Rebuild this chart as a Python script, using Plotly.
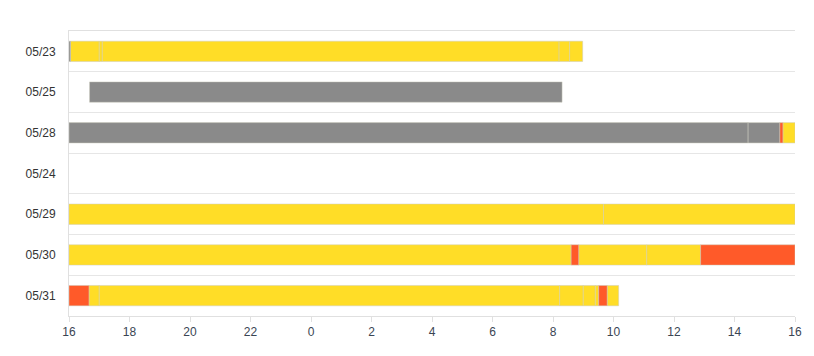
import plotly.graph_objects as go

# Categories (top to bottom)
days = ["05/23", "05/25", "05/28", "05/24", "05/29", "05/30", "05/31"]

# X axis: hours since 16:00, tick labels are clock hours
tick_hours = [0, 2, 4, 6, 8, 10, 12, 14, 16, 18, 20, 22, 24]
tick_labels = ["16", "18", "20", "22", "0", "2", "4", "6", "8", "10", "12", "14", "16"]

# Segments (hours since 16:00)
seg_day = ["05/23", "05/23", "05/23", "05/23", "05/23", "05/23",
           "05/25",
           "05/28", "05/28", "05/28", "05/28",
           "05/29", "05/29",
           "05/30", "05/30", "05/30", "05/30", "05/30",
           "05/31", "05/31", "05/31", "05/31", "05/31", "05/31", "05/31", "05/31"]
seg_start = [0.0, 0.05, 1.0, 1.1, 16.2, 16.55,
             0.68,
             0.0, 22.45, 23.5, 23.6,
             0.0, 17.67,
             0.0, 16.6, 16.85, 19.1, 20.88,
             0.0, 0.66, 1.0, 16.22, 17.0, 17.4, 17.51, 17.79]
seg_end = [0.05, 1.0, 1.1, 16.2, 16.55, 16.98,
           16.3,
           22.45, 23.5, 23.6, 24.0,
           17.67, 24.0,
           16.6, 16.85, 19.1, 20.88, 24.0,
           0.66, 1.0, 16.22, 17.0, 17.4, 17.51, 17.79, 18.17]
seg_state = ["off", "on", "on", "on", "on", "on",
             "off",
             "off", "off", "alarm", "on",
             "on", "on",
             "on", "alarm", "on", "on", "alarm",
             "alarm", "on", "on", "on", "on", "on", "alarm", "on"]

states = ["on", "off", "alarm"]
state_colors = {"on": "#FFDD27", "off": "#8A8A8A", "alarm": "#FF5A29"}

fig = go.Figure()
for st in states:
    idx = [i for i, s in enumerate(seg_state) if s == st]
    fig.add_trace(go.Bar(
        orientation="h",
        y=[seg_day[i] for i in idx],
        base=[seg_start[i] for i in idx],
        x=[seg_end[i] - seg_start[i] for i in idx],
        width=0.5,
        marker=dict(color=state_colors[st],
                    line=dict(color="rgba(205,205,190,0.7)", width=0.7)),
        name=st,
        showlegend=False,
    ))

fig.update_layout(
    width=806, height=348,
    margin=dict(l=61, r=12, t=23, b=40),
    paper_bgcolor="white", plot_bgcolor="white",
    barmode="overlay",
    font=dict(family="Arial, Liberation Sans, sans-serif", size=12, color="#333333"),
)
fig.update_xaxes(
    range=[0, 24],
    tickvals=tick_hours, ticktext=tick_labels,
    showgrid=False, zeroline=False,
    showline=True, linecolor="#E0E0E0", linewidth=1, mirror=True,
    ticks="outside", ticklen=5, tickcolor="#E0E0E0",
    tickfont=dict(color="#3a4553", size=12),
)
fig.update_yaxes(
    type="category", categoryorder="array", categoryarray=days,
    range=[len(days) - 0.5, -0.5],
    tickson="boundaries", ticks="",
    showgrid=True, gridcolor="#E6E6E6", gridwidth=1,
    showline=True, linecolor="#E0E0E0", linewidth=1,
    ticklabelstandoff=10,
    tickfont=dict(color="#333333", size=12),
)

fig.write_html("out.html")
